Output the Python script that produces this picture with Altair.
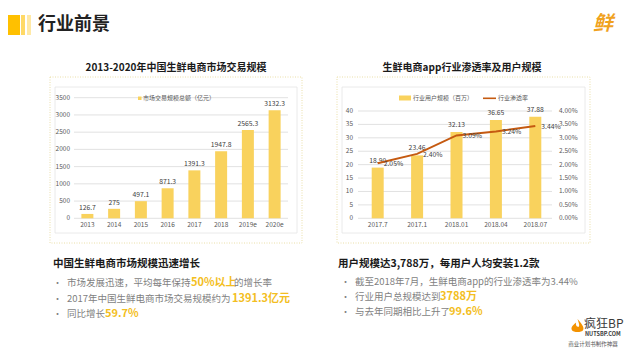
import altair as alt
import pandas as pd

FONT = "Noto Sans CJK SC"
O = 8  # page margin offset

# ---------------- data ----------------
years = ["2013", "2014", "2015", "2016", "2017", "2018", "2019e", "2020e"]
market = [126.7, 275, 497.1, 871.3, 1391.3, 1947.8, 2565.3, 3132.3]
market_text = ["126.7", "275", "497.1", "871.3", "1391.3", "1947.8", "2565.3", "3132.3"]
market_ticks = [0, 500, 1000, 1500, 2000, 2500, 3000, 3500]

periods = ["2017.7", "2017.1", "2018.01", "2018.04", "2018.07"]
users = [18.90, 23.46, 32.13, 36.65, 37.88]
users_text = ["18.90", "23.46", "32.13", "36.65", "37.88"]
rates = [2.05, 2.40, 3.09, 3.24, 3.44]
rates_text = ["2.05%", "2.40%", "3.09%", "3.24%", "3.44%"]
user_ticks = [0, 5, 10, 15, 20, 25, 30, 35, 40]
rate_ticks = [0, 0.5, 1.0, 1.5, 2.0, 2.5, 3.0, 3.5, 4.0]
rate_ticks_text = ["0.00%", "0.50%", "1.00%", "1.50%", "2.00%", "2.50%", "3.00%", "3.50%", "4.00%"]

BAR = "#F9D25D"
LINE = "#C55A11"
HL = "#F3BE22"
GRAY = "#7F7F7F"
AX = "#595959"
GRID = "#D9D9D9"

one = pd.DataFrame({"a": [0]})


def V(v):
    return alt.value(v - O)


def txt(x, y, s, size, color, bold=False, align="left", baseline="middle", italic=False):
    return alt.Chart(one).mark_text(
        align=align, baseline=baseline, fontSize=size, font=FONT,
        fontWeight="bold" if bold else "normal",
        fontStyle="italic" if italic else "normal", color=color
    ).encode(x=V(x), y=V(y), text=alt.value(s))


def box(x1, y1, x2, y2, fill="transparent", stroke="transparent", dash=None, sw=1.0):
    kw = dict(fill=fill, stroke=stroke, strokeWidth=sw)
    if dash:
        kw["strokeDash"] = dash
    return alt.Chart(one).mark_rect(**kw).encode(x=V(x1), x2=V(x2), y=V(y1), y2=V(y2))


def hrule(x1, x2, y, color, sw):
    return alt.Chart(one).mark_rule(color=color, strokeWidth=sw).encode(x=V(x1), x2=V(x2), y=V(y))


layers = []

# ---------------- header ----------------
layers += [
    box(0, 15, 20, 35, fill="#FFC000"),
    box(21, 15, 25, 35, fill="#FFD966"),
    box(27, 15, 31, 35, fill="#FFE9A6"),
    txt(38, 25, "行业前景", 18, "#222222", bold=True),
    txt(603, 24, "鲜", 20, "#F0A21E", bold=True, align="center", italic=True),
]

# ---------------- left chart ----------------
left_df = pd.DataFrame({"year": years, "amount": market, "label": market_text})
ltick_df = pd.DataFrame({"tick": market_ticks, "tlabel": [str(t) for t in market_ticks]})

lx = alt.X("year:N", sort=years,
           scale=alt.Scale(type="band", domain=years, range=[74 - O, 288 - O],
                           paddingInner=0.55, paddingOuter=0.275), axis=None)


def ly(f):
    return alt.Y(f + ":Q", scale=alt.Scale(domain=[0, 3500], range=[218.3 - O, 97.7 - O], nice=False),
                 axis=None)


layers += [
    txt(176, 68, "2013-2020年中国生鲜电商市场交易规模", 10, "#1a1a1a", bold=True, align="center"),
    box(50, 77, 302, 243, stroke="#EADFA8", dash=[1, 1.5]),
    box(55, 87, 297, 233, stroke="#E4E4E4", sw=0.8),
    alt.Chart(ltick_df).mark_rule(color=GRID, strokeWidth=0.8).encode(
        y=ly("tick"), x=V(74), x2=V(288)),
    alt.Chart(ltick_df).mark_text(align="right", baseline="middle", fontSize=6.5, font=FONT, color=AX).encode(
        y=ly("tick"), x=V(70), text="tlabel:N"),
    alt.Chart(left_df).mark_bar(size=12, color=BAR).encode(x=lx, y=ly("amount")),
    alt.Chart(left_df).mark_text(baseline="bottom", dy=-3, fontSize=6.8, font=FONT, color="#404040").encode(
        x=lx, y=ly("amount"), text="label:N"),
    alt.Chart(left_df).mark_text(baseline="middle", fontSize=6.5, font=FONT, color=AX).encode(
        x=lx, y=V(225), text="year:N"),
    box(138, 96.5, 141.5, 100, fill=BAR),
    txt(143, 98.3, "市场交易规模总额（亿元）", 6, AX),
]

# ---------------- right chart ----------------
right_df = pd.DataFrame({"period": periods, "users": users, "ulabel": users_text,
                         "rate": rates, "rlabel": rates_text})
utick_df = pd.DataFrame({"tick": user_ticks, "tlabel": [str(t) for t in user_ticks]})
rtick_df = pd.DataFrame({"tick": rate_ticks, "tlabel": rate_ticks_text})

rx = alt.X("period:N", sort=periods,
           scale=alt.Scale(type="band", domain=periods, range=[358 - O, 555 - O],
                           paddingInner=0.69, paddingOuter=0.345), axis=None)


def ry_u(f):
    return alt.Y(f + ":Q", scale=alt.Scale(domain=[0, 40], range=[218.3 - O, 111 - O], nice=False), axis=None)


def ry_r(f):
    return alt.Y(f + ":Q", scale=alt.Scale(domain=[0, 4], range=[218.3 - O, 111 - O], nice=False), axis=None)


layers += [
    txt(462, 68, "生鲜电商app行业渗透率及用户规模", 10, "#1a1a1a", bold=True, align="center"),
    box(337, 77, 590, 243, stroke="#EADFA8", dash=[1, 1.5]),
    box(342, 87, 585, 233, stroke="#E4E4E4", sw=0.8),
    alt.Chart(utick_df).mark_rule(color=GRID, strokeWidth=0.8).encode(
        y=ry_u("tick"), x=V(358), x2=V(552)),
    alt.Chart(utick_df).mark_text(align="right", baseline="middle", fontSize=6.5, font=FONT, color=AX).encode(
        y=ry_u("tick"), x=V(353), text="tlabel:N"),
    alt.Chart(rtick_df).mark_text(align="left", baseline="middle", fontSize=6.5, font=FONT, color=AX).encode(
        y=ry_r("tick"), x=V(559), text="tlabel:N"),
    alt.Chart(right_df).mark_bar(size=12, color=BAR).encode(x=rx, y=ry_u("users")),
    alt.Chart(right_df).mark_text(baseline="bottom", dy=-4, fontSize=6.8, font=FONT, color="#404040").encode(
        x=rx, y=ry_u("users"), text="ulabel:N"),
    alt.Chart(right_df).mark_line(color=LINE, strokeWidth=2).encode(x=rx, y=ry_r("rate")),
    alt.Chart(right_df).mark_text(align="left", baseline="middle", dx=6, dy=1, fontSize=6.8, font=FONT,
                                  color="#404040").encode(x=rx, y=ry_r("rate"), text="rlabel:N"),
    alt.Chart(right_df).mark_text(baseline="middle", fontSize=6.5, font=FONT, color=AX).encode(
        x=rx, y=V(225), text="period:N"),
    box(399, 95.5, 411, 100.5, fill=BAR),
    txt(413, 98.3, "行业用户规模（百万）", 6, AX),
    hrule(483, 496, 98.3, LINE, 1.6),
    txt(498, 98.3, "行业渗透率", 6, AX),
]

# ---------------- bottom text left ----------------
HS = 11
layers += [
    txt(53, 264, "中国生鲜电商市场规模迅速增长", 10.5, "#1a1a1a", bold=True),
    txt(53, 283, "•", 9, GRAY), txt(67, 283, "市场发展迅速，平均每年保持", 9.5, GRAY),
    txt(191, 283, "50%以上", HS, HL, bold=True), txt(234, 283, "的增长率", 9.5, GRAY),
    txt(53, 298.5, "•", 9, GRAY), txt(67, 298.5, "2017年中国生鲜电商市场交易规模约为", 9.5, GRAY),
    txt(232, 298.5, "1391.3亿元", HS, HL, bold=True),
    txt(53, 313.5, "•", 9, GRAY), txt(67, 313.5, "同比增长", 9.5, GRAY),
    txt(105, 313.5, "59.7%", HS, HL, bold=True),
]

# ---------------- bottom text right ----------------
layers += [
    txt(338, 264, "用户规模达3,788万，每用户人均安装1.2款", 10.5, "#1a1a1a", bold=True),
    txt(341, 282, "•", 9, GRAY), txt(355, 282, "截至2018年7月，生鲜电商app的行业渗透率为3.44%", 9.5, GRAY),
    txt(341, 297, "•", 9, GRAY), txt(355, 297, "行业用户总规模达到", 9.5, GRAY),
    txt(440, 297, "3788万", HS, HL, bold=True),
    txt(341, 312, "•", 9, GRAY), txt(355, 312, "与去年同期相比上升了", 9.5, GRAY),
    txt(449, 312, "99.6%", HS, HL, bold=True),
]

# ---------------- logo ----------------
flame = "M0,-1 C0.5,-0.4 1,0.1 0.8,0.55 C0.6,0.95 -0.6,0.95 -0.8,0.55 C-1,0.1 -0.5,-0.2 -0.2,-0.5 C-0.3,-0.1 -0.1,0.2 0.2,0.1 C0.35,-0.2 0.1,-0.6 0,-1 Z"
layers += [
    alt.Chart(one).mark_point(shape=flame, size=200, filled=True, color="#F39200", opacity=1).encode(
        x=V(577.5), y=V(326)),
    txt(584, 323.5, "疯狂BP", 12, "#3a3a3a"),
    txt(585, 334, "NUTSBP.COM", 5.5, "#3a3a3a", bold=True),
    txt(593, 344, "商业计划书制作神器", 5.5, "#555555", align="center"),
]

chart = alt.layer(*layers).properties(
    width=624, height=344, autosize="none", padding=0, background="white"
).resolve_scale(x="independent", y="independent").configure_view(strokeWidth=0)

chart.save("out.html", embed_options={"renderer": "svg", "actions": False})
